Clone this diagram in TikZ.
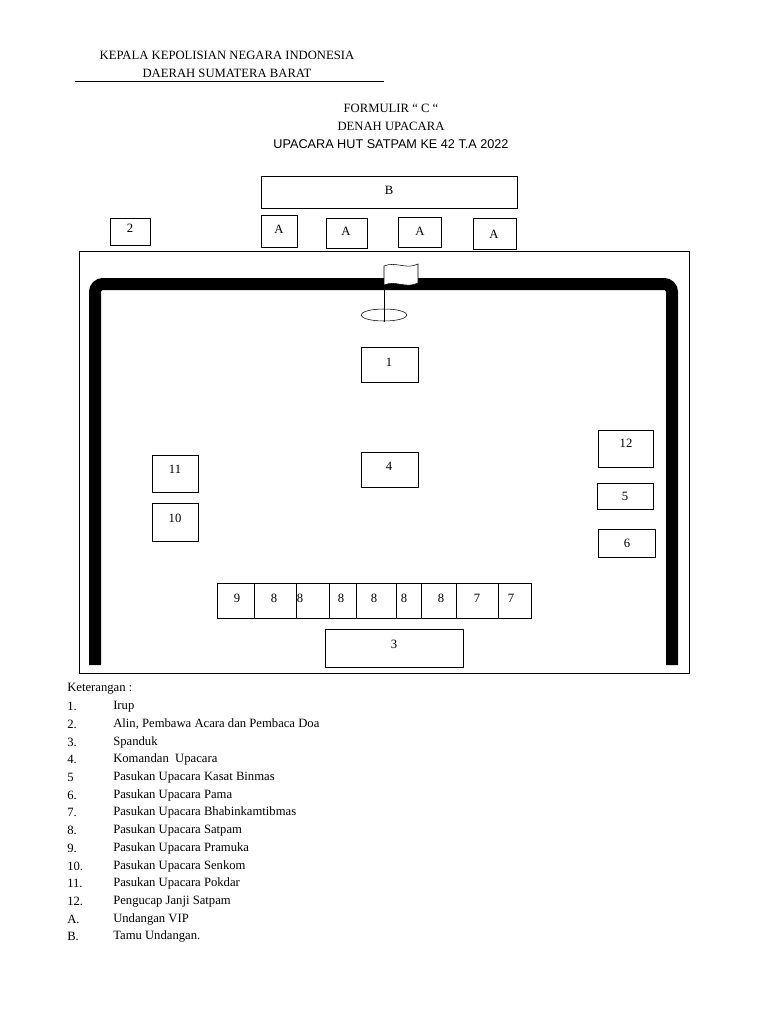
\documentclass[tikz,border=0pt]{standalone}
\usepackage{fontspec}
\setmainfont{Liberation Serif}
\newfontfamily\judulfont{Liberation Sans}
\usetikzlibrary{positioning, calc}

\begin{document}
\begin{tikzpicture}[x=0.75pt, y=-0.75pt,
    kotak/.style={draw, thin},
    teks/.style={font=\fontsize{9.5}{11}\selectfont, inner sep=0pt},
    ket/.style={teks, anchor=west}]
        \useasboundingbox (0,0) rectangle (768,1024);

        % kop surat
        \node[teks] (kop1) at (227,55) {KEPALA KEPOLISIAN NEGARA INDONESIA};
        \node[teks] (kop2) at (227,73) {DAERAH SUMATERA BARAT};
        \draw[thin] (75,81) -- (384,81);

        \node[teks] (jdl1) at (391,108) {FORMULIR `` C ``};
        \node[teks] (jdl2) at (391,126) {DENAH UPACARA};
        \node[teks, font=\judulfont\fontsize{9.5}{11}\selectfont] (jdl3) at (391,144) {UPACARA HUT SATPAM KE 42 T.A 2022};

        % tamu dan VIP
        \draw[kotak] (261,176) rectangle (517,208); \node[teks] (b) at (389,190) {B};
        \draw[kotak] (110,218) rectangle (150,245); \node[teks] (dua) at (130,228) {2};
        \draw[kotak] (261,215) rectangle (297,247); \node[teks] (a1) at (279,229) {A};
        \draw[kotak] (326,218) rectangle (367,248); \node[teks] (a2) at (346,231) {A};
        \draw[kotak] (398,217) rectangle (441,247); \node[teks] (a3) at (420,231) {A};
        \draw[kotak] (473,218) rectangle (516,249); \node[teks] (a4) at (494,234) {A};

        % lapangan
        \draw[thin] (79,251) rectangle (689,673);
        \draw[line width=9pt, rounded corners=6] (95,665) -- (95,284) -- (672,284) -- (672,665);

        % tiang bendera
        \draw[thin] (384,322) -- (384,266);
        \draw[thin, fill=white] (384,266) .. controls (396,261) and (406,270) .. (418,264)
            -- (418,283) .. controls (406,289) and (396,280) .. (384,285) -- cycle;
        \draw[thin] (384,315) ellipse (23 and 6);

        % posisi
        \draw[kotak] (361,347) rectangle (418,382); \node[teks] (satu) at (389,362) {1};
        \draw[kotak] (361,452) rectangle (418,487); \node[teks] (empat) at (389,466) {4};
        \draw[kotak] (152,455) rectangle (198,492); \node[teks] (sebelas) at (175,469) {11};
        \draw[kotak] (152,503) rectangle (198,541); \node[teks] (sepuluh) at (175,518) {10};
        \draw[kotak] (598,430) rectangle (653,467); \node[teks] (duabelas) at (626,443) {12};
        \draw[kotak] (597,483) rectangle (653,509); \node[teks] (lima) at (625,496) {5};
        \draw[kotak] (598,529) rectangle (655,557); \node[teks] (enam) at (627,543) {6};
        \draw[kotak] (325,629) rectangle (463,667); \node[teks] (tiga) at (394,644) {3};

        % barisan pasukan
        \draw[kotak] (217,583) rectangle (531,618);
        \foreach \x in {254,296,329,356,396,421,456,498}
            \draw[thin] (\x,583) -- (\x,618);
        \foreach \x/\n [count=\i] in {237/9,274/8,300/8,341/8,374/8,404/8,441/8,477/7,511/7}
            \node[teks] (p\i) at (\x,598) {\n};

        % keterangan
        \node[ket] (ket) at (67,689) {Keterangan :};
        \foreach \n/\t [count=\i] in {1./Irup, 2./{Alin, Pembawa Acara dan Pembaca Doa}, 3./Spanduk,
            4./Komandan\ \ Upacara, 5/Pasukan Upacara Kasat Binmas, 6./Pasukan Upacara Pama,
            7./Pasukan Upacara Bhabinkamtibmas, 8./Pasukan Upacara Satpam, 9./Pasukan Upacara Pramuka,
            10./Pasukan Upacara Senkom, 11./Pasukan Upacara Pokdar, 12./Pengucap Janji Satpam,
            A./Undangan VIP, B./Tamu Undangan.}
        {
            \node[ket] (no\i) at (67,{689+17.7*\i}) {\n};
            \node[ket] (isi\i) at (113,{689+17.7*\i}) {\t};
        }
\end{tikzpicture}
\end{document}
